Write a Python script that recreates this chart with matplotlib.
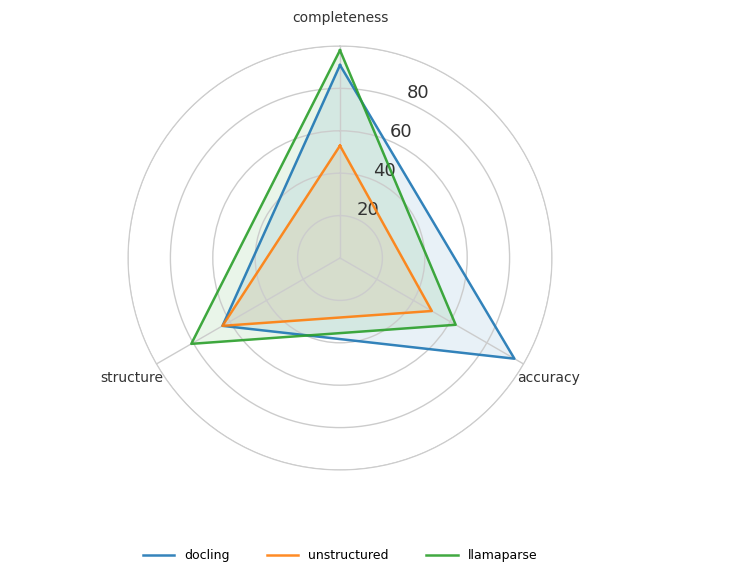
import numpy as np
import matplotlib
matplotlib.use("Agg")
import matplotlib.pyplot as plt

categories = ["completeness", "accuracy", "structure"]
series_names = ["docling", "unstructured", "llamaparse"]
docling = [91, 95, 64]
unstructured = [53, 50, 64]
llamaparse = [98, 63, 81]
colors = ["#1f77b4", "#ff7f0e", "#2ca02c"]

fig = plt.figure(figsize=(7.33, 5.68), dpi=100)
ax = fig.add_axes([(340-212)/733, 1-(258+212)/568, 424/733, 424/568], polar=True)
ax.set_theta_zero_location("N")
ax.set_theta_direction(-1)
angles = np.linspace(0, 2*np.pi, len(categories), endpoint=False)
for name, vals, c in zip(series_names, [docling, unstructured, llamaparse], colors):
    a = np.concatenate([angles, angles[:1]])
    v = np.concatenate([vals, vals[:1]])
    ax.plot(a, v, color=c, lw=1.8, alpha=0.9, label=name)
    ax.fill(a, v, color=c, alpha=0.1)
ax.set_ylim(0, 100)
ax.set_yticks([20, 40, 60, 80, 100])
ax.set_yticklabels(["20", "40", "60", "80", ""], fontsize=13, color="#333333")
ax.set_rlabel_position(23)
ax.set_xticks(angles)
ax.set_xticklabels(categories, fontsize=10, color="#333333")
ax.tick_params(axis="x", pad=10)
ax.grid(color="#cccccc", lw=1)
ax.spines["polar"].set_color("#cccccc")
ax.set_facecolor("white")
fig.legend(loc="lower center", bbox_to_anchor=(340/733, -0.01), ncol=3, frameon=False, fontsize=9, handlelength=2.5, columnspacing=3)
fig.savefig("out.png", dpi=100)
